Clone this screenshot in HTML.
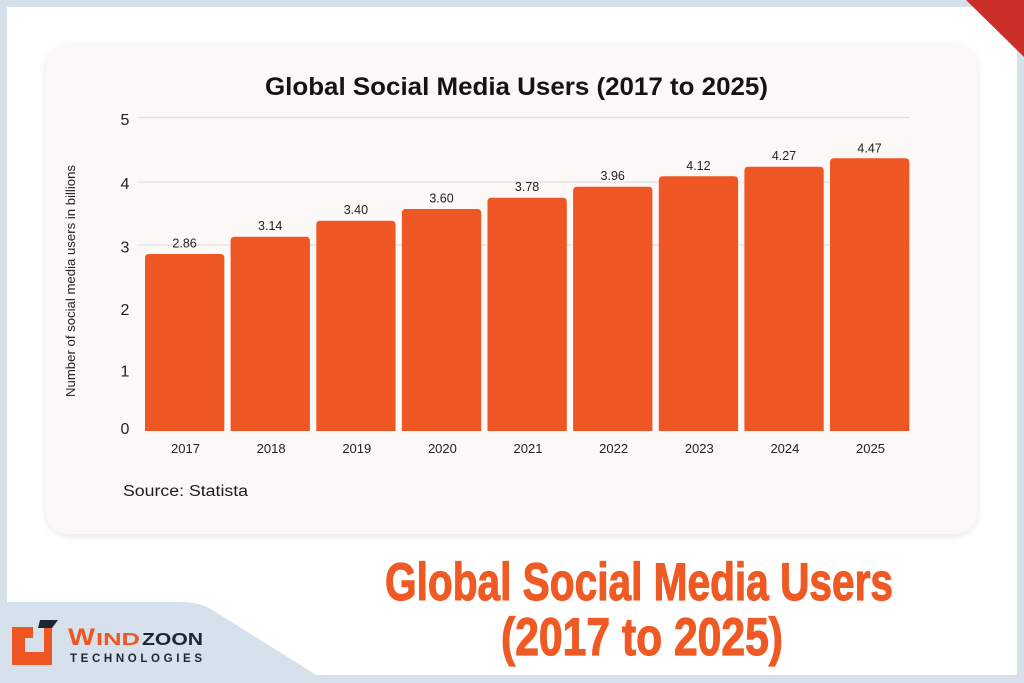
<!DOCTYPE html>
<html><head><meta charset="utf-8"><style>
html,body{margin:0;padding:0;width:1024px;height:683px;overflow:hidden;background:#d7e1ec;}
svg{display:block;}
text{font-family:"Liberation Sans",sans-serif;}
</style></head><body>
<svg width="1024" height="683" viewBox="0 0 1024 683" xmlns="http://www.w3.org/2000/svg">
<defs>
<filter id="sh" x="-5%" y="-5%" width="110%" height="110%">
<feGaussianBlur in="SourceAlpha" stdDeviation="4"/>
<feOffset dx="0" dy="2"/>
<feComponentTransfer><feFuncA type="linear" slope="0.10"/></feComponentTransfer>
<feMerge><feMergeNode/><feMergeNode in="SourceGraphic"/></feMerge>
</filter>
</defs>
<rect x="0" y="0" width="1024" height="683" fill="#d7e1ec"/>
<rect x="7" y="7" width="1010" height="668" fill="#ffffff"/>
<!-- bottom-left band -->
<path d="M0,602 L183,602 Q200,602 214,611 L318,676 L0,676 Z" fill="#d7e1ec"/>
<rect x="0" y="675" width="1024" height="8" fill="#d7e1ec"/>
<!-- red triangle -->
<polygon points="966,0 1024,0 1024,57" fill="#c92e29"/>
<!-- card -->
<rect x="46" y="45" width="931" height="489" rx="22" ry="22" fill="#fcf8f7" filter="url(#sh)"/>
<!-- title -->
<text x="516.5" y="95" text-anchor="middle" font-size="25" font-weight="bold" fill="#141414" textLength="503" lengthAdjust="spacingAndGlyphs">Global Social Media Users (2017 to 2025)</text>
<!-- gridlines -->
<g stroke="#e4e0df" stroke-width="1.3">
<line x1="137" y1="117.5" x2="910" y2="117.5"/>
<line x1="137" y1="182" x2="910" y2="182"/>
<line x1="137" y1="245" x2="910" y2="245"/>
</g>
<!-- y labels -->
<g font-size="16" fill="#222" text-anchor="middle">
<text x="125" y="125">5</text>
<text x="125" y="189">4</text>
<text x="125" y="252.5">3</text>
<text x="125" y="315">2</text>
<text x="125" y="376.5">1</text>
<text x="125" y="434">0</text>
</g>
<text transform="translate(75,281) rotate(-90)" text-anchor="middle" font-size="12.5" fill="#222" textLength="232" lengthAdjust="spacingAndGlyphs">Number of social media users in billions</text>
<!-- bars -->
<g fill="#ee5624">
<path d="M145,431 V258 Q145,254 149,254 H220.3 Q224.3,254 224.3,258 V431 Z"/>
<path d="M230.6,431 V240.7 Q230.6,236.7 234.6,236.7 H305.9 Q309.9,236.7 309.9,240.7 V431 Z"/>
<path d="M316.3,431 V224.7 Q316.3,220.7 320.3,220.7 H391.6 Q395.6,220.7 395.6,224.7 V431 Z"/>
<path d="M401.9,431 V213 Q401.9,209 405.9,209 H477.2 Q481.2,209 481.2,213 V431 Z"/>
<path d="M487.5,431 V201.7 Q487.5,197.7 491.5,197.7 H562.8 Q566.8,197.7 566.8,201.7 V431 Z"/>
<path d="M573.1,431 V190.7 Q573.1,186.7 577.1,186.7 H648.4 Q652.4,186.7 652.4,190.7 V431 Z"/>
<path d="M658.8,431 V180.3 Q658.8,176.3 662.8,176.3 H734.1 Q738.1,176.3 738.1,180.3 V431 Z"/>
<path d="M744.4,431 V170.7 Q744.4,166.7 748.4,166.7 H819.7 Q823.7,166.7 823.7,170.7 V431 Z"/>
<path d="M830,431 V162.3 Q830,158.3 834,158.3 H905.3 Q909.3,158.3 909.3,162.3 V431 Z"/>
</g>
<!-- value labels -->
<g font-size="12.5" fill="#222" text-anchor="middle">
<text x="184.6" y="247.5">2.86</text>
<text x="270.2" y="230.2">3.14</text>
<text x="355.9" y="214.2">3.40</text>
<text x="441.5" y="202.5">3.60</text>
<text x="527.1" y="191.2">3.78</text>
<text x="612.7" y="180.2">3.96</text>
<text x="698.4" y="169.8">4.12</text>
<text x="784" y="160.2">4.27</text>
<text x="869.6" y="152.5">4.47</text>
</g>
<!-- x labels -->
<g font-size="13" fill="#222" text-anchor="middle">
<text x="185.5" y="453">2017</text>
<text x="271.1" y="453">2018</text>
<text x="356.8" y="453">2019</text>
<text x="442.4" y="453">2020</text>
<text x="528" y="453">2021</text>
<text x="613.6" y="453">2022</text>
<text x="699.3" y="453">2023</text>
<text x="784.9" y="453">2024</text>
<text x="870.5" y="453">2025</text>
</g>
<text x="123" y="496" font-size="15.5" fill="#1c1c1c" textLength="125" lengthAdjust="spacingAndGlyphs">Source: Statista</text>
<!-- big bottom title -->
<g fill="#ef5a24" stroke="#ef5a24" stroke-width="1.2" font-weight="bold" font-size="53" text-anchor="middle" style="font-family:'Liberation Sans Narrow','Liberation Sans',sans-serif">
<text x="639" y="600" textLength="508" lengthAdjust="spacingAndGlyphs">Global Social Media Users</text>
<text x="642" y="655" textLength="282" lengthAdjust="spacingAndGlyphs">(2017 to 2025)</text>
</g>
<!-- logo -->
<g>
<polygon points="12,627 33,627 33,638 25,638 25,652 44,652 44,627 52,627 52,665 12,665" fill="#ee5624"/>
<polygon points="40,620 58,620 52,628 38,628" fill="#1e2533"/>
<polygon points="44,628 52,628 52,648 44,656" fill="#ee5624"/>
</g>
<text x="68" y="645" font-size="24" font-weight="bold" fill="#ee5624" textLength="27" lengthAdjust="spacingAndGlyphs">W</text>
<text x="96" y="645" font-size="17.5" font-weight="bold" fill="#ee5624" textLength="44" lengthAdjust="spacingAndGlyphs">IND</text>
<text x="142" y="645" font-size="17.5" font-weight="bold" fill="#1e2533" textLength="61" lengthAdjust="spacingAndGlyphs">ZOON</text>
<text x="70" y="662" font-size="11.5" font-weight="bold" fill="#1e2533" textLength="132" lengthAdjust="spacing">TECHNOLOGIES</text>
</svg>
</body></html>
